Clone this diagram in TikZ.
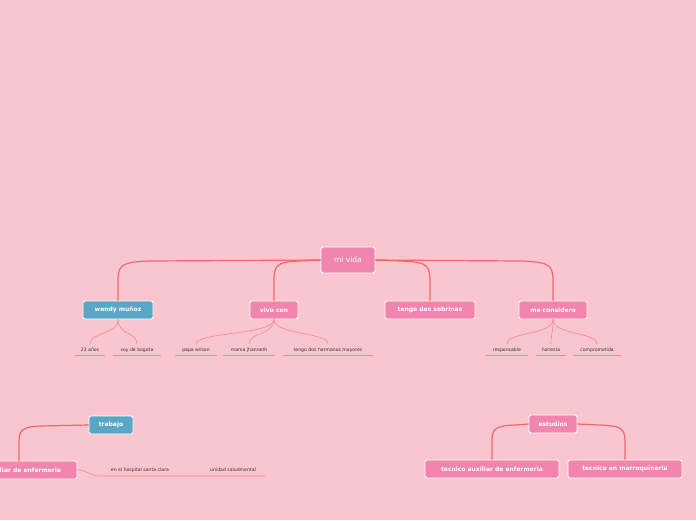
\documentclass[tikz,border=0pt]{standalone}
\usepackage{fontspec}
\setmainfont{DejaVu Sans}
\definecolor{bg}{HTML}{F9C5CF}
\definecolor{pk}{HTML}{F285AE}
\definecolor{bl}{HTML}{5AA6C6}
\definecolor{ln}{HTML}{F0686C}
\definecolor{lf}{HTML}{F28890}
\begin{document}
\begin{tikzpicture}[x=1pt,y=-1pt,
 box/.style={rounded corners=2pt,draw=white,line width=0.9pt,text=white,font=\bfseries\fontsize{6}{7}\selectfont,minimum height=18pt,inner xsep=6pt},
 pbox/.style={box,fill=pk},
 bbox/.style={box,fill=bl},
 leaf/.style={font=\fontsize{4.6}{5}\selectfont,text=black!80,inner sep=1pt},
 con/.style={draw=ln,line width=1.2pt},
 lcon/.style={draw=lf,line width=0.6pt}]
\fill[bg] (0,0) rectangle (696,520);
\clip (0,0) rectangle (696,520);
\useasboundingbox (0,0) rectangle (696,520);
\node[pbox,minimum width=54pt,minimum height=26pt,font=\fontsize{7.5}{8}\selectfont] (root) at (348,260) {mi vida};
\node[bbox,minimum width=70pt] (w) at (118,310) {wendy muñoz};
\node[pbox,minimum width=48pt] (v) at (274,310) {vivo con};
\node[pbox,minimum width=90pt] (t) at (430,310) {tengo dos sobrinas};
\node[pbox,minimum width=68pt] (m) at (553,310) {me considero};
\foreach \n/\x/\t/\lw in {a/90/23 años/30,b/137/soy de bogota/48,c/196/papa wilson/42,d/249/mama jhanneth/52,e/328/tengo dos hermanos mayores/90,f/507/responsable/42,g/551/honesta/30,h/597/comprometida/48}{
 \node[leaf] (\n) at (\x,350) {\t};
 \draw[lcon] (\x-\lw/2,355) -- (\x+\lw/2,355);
}
\draw[con] (root.west) -- (150,261) .. controls (118,262) and (118,266) .. (118,285) -- (w.north);
\draw[con] (root.west) -- (300,261) .. controls (274,262) and (274,266) .. (274,285) -- (v.north);
\draw[con] (root.east) -- (400,261) .. controls (430,262) and (430,266) .. (430,285) -- (t.north);
\draw[con] (root.east) -- (520,261) .. controls (553,262) and (553,266) .. (553,285) -- (m.north);
\foreach \n/\x in {a/90,b/137}{\draw[lcon] (w.south) .. controls (118,335) and (\x,332) .. (\x,344);}
\foreach \n/\x in {c/196,d/249,e/328}{\draw[lcon] (v.south) .. controls (274,335) and (\x,332) .. (\x,344);}
\foreach \n/\x in {f/507,g/551,h/597}{\draw[lcon] (m.south) .. controls (553,335) and (\x,332) .. (\x,344);}
\node[bbox,minimum width=44pt] (tr) at (111,425) {trabajo};
\node[pbox,minimum width=134pt] (te) at (10,470) {tecnico auxiliar de enfermeria};
\draw[con] (tr.west) -- (40,426) .. controls (19,427) and (19,432) .. (19,445) -- (19,461);
\node[leaf] (h1) at (140,470) {en el hospital santa clara};
\node[leaf] (h2) at (233,470) {unidad saludmental};
\draw[lcon] (te.east) .. controls (88,470) and (90,476) .. (100,476) -- (265,476);
\node[pbox,minimum width=48pt] (es) at (553,424) {estudios};
\node[pbox,minimum width=134pt] (t1) at (492,469) {tecnico auxiliar de enfermeria};
\node[pbox,minimum width=114pt] (t2) at (625,469) {tecnico en marroquineria};
\draw[con] (es.west) -- (515,425) .. controls (492,426) and (492,430) .. (492,445) -- (t1.north);
\draw[con] (es.east) -- (600,425) .. controls (625,426) and (625,430) .. (625,445) -- (t2.north);
\end{tikzpicture}
\end{document}
